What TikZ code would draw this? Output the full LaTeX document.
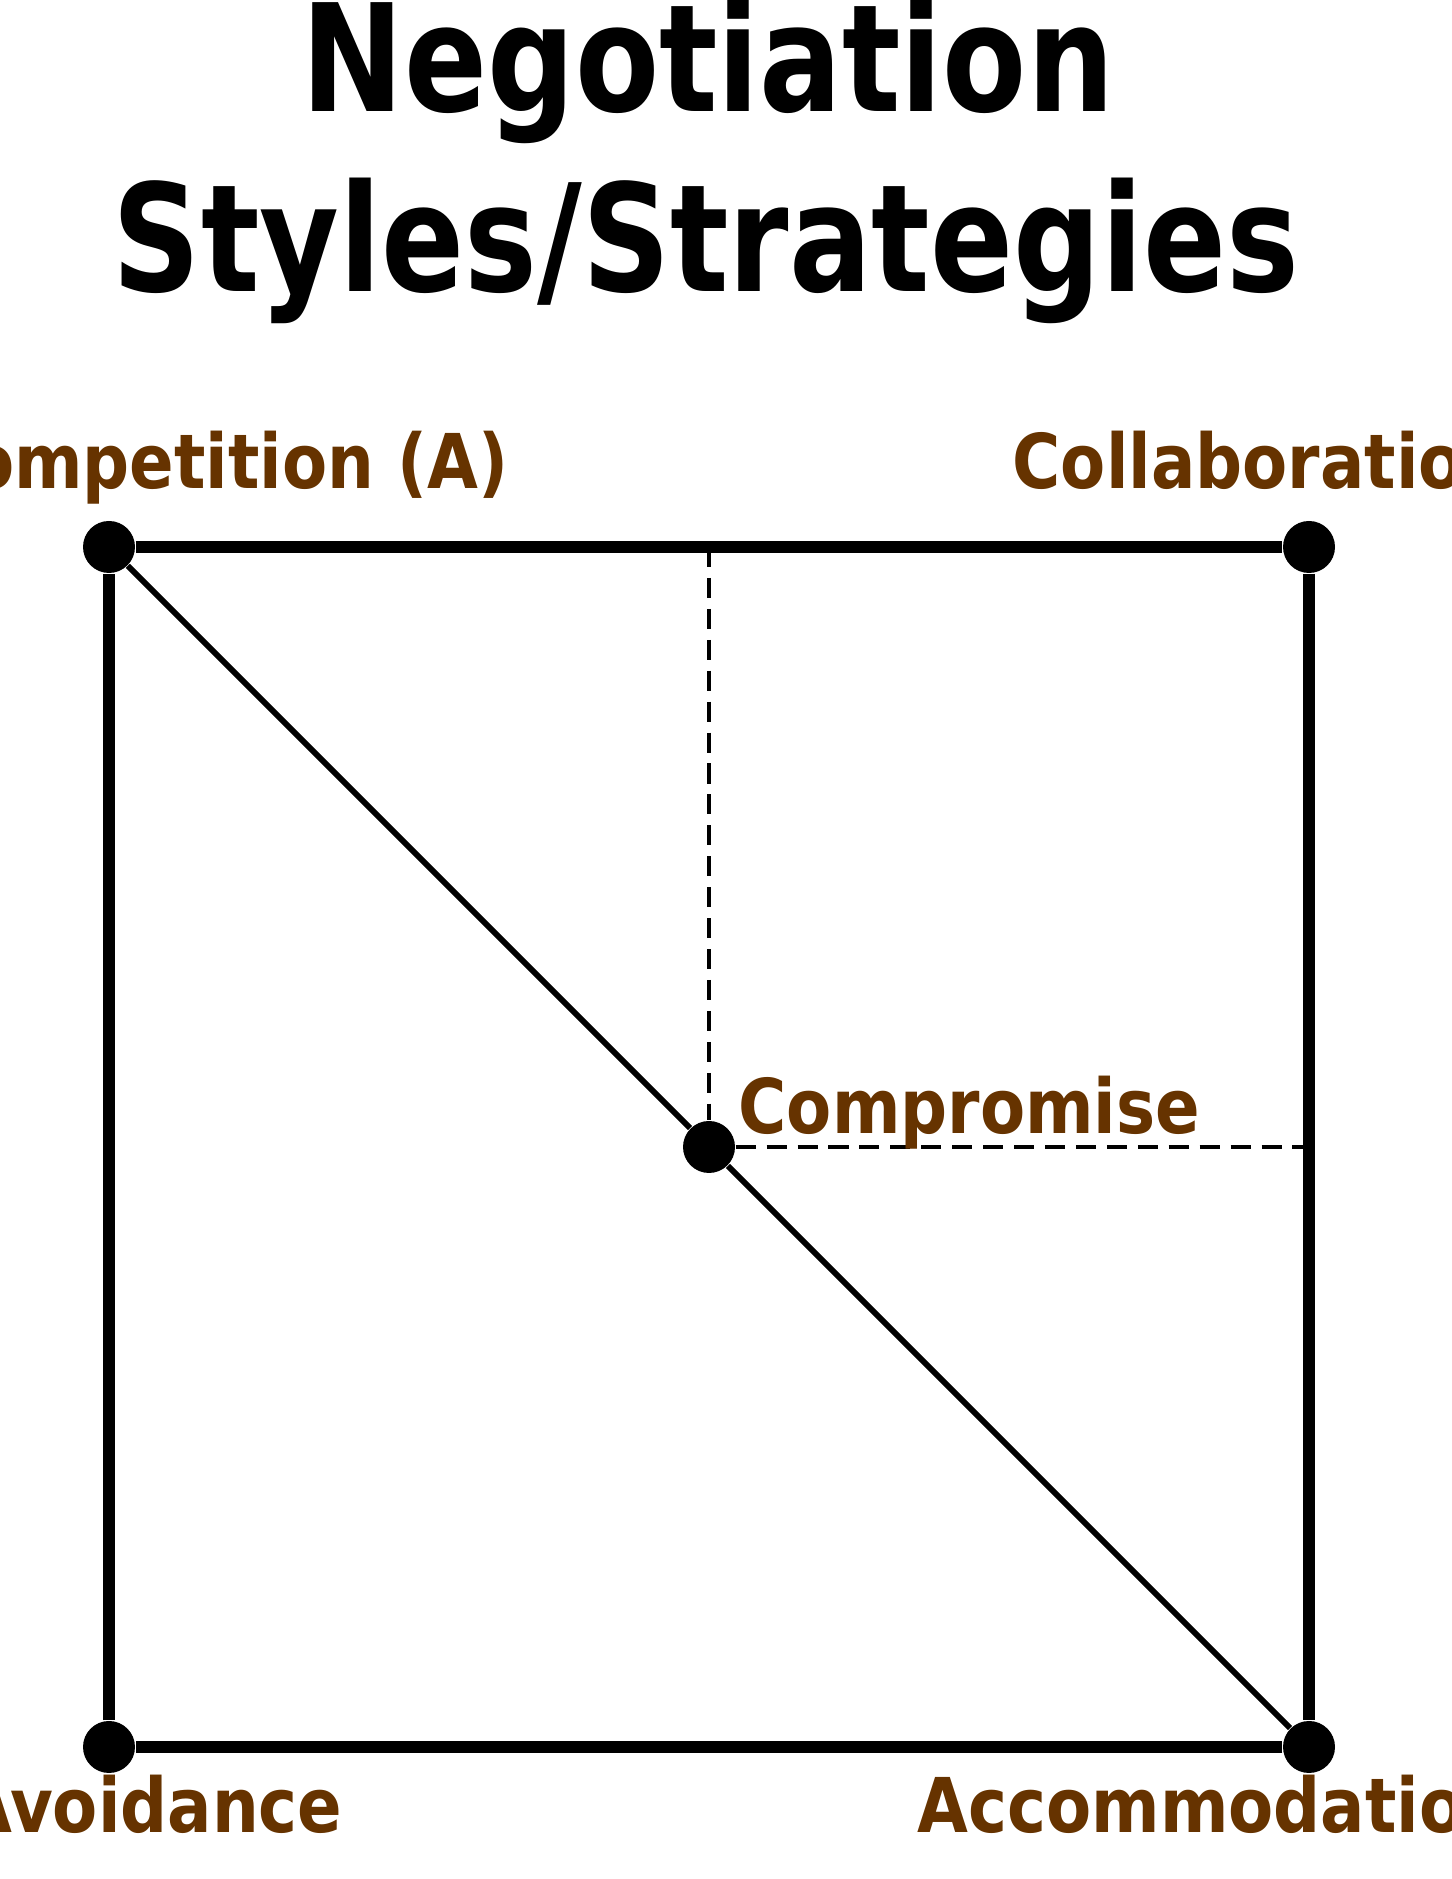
\documentclass[tikz,border=0pt]{standalone}
\usepackage{fontspec}
\newfontfamily\ttlfont[FakeStretch=0.82]{DejaVu Sans}
\newfontfamily\lblfont[FakeStretch=0.87]{DejaVu Sans}
\definecolor{lblbrown}{RGB}{102,51,0}

\tikzset{
    dot/.style = {circle, fill=black, inner sep=0pt, minimum size=0.52cm},
    edge/.style = {line width=3.2pt},
    diag/.style = {line width=1.7pt},
    guide/.style = {line width=1.1pt, dash pattern=on 5.7pt off 3.1pt},
    lbl/.style = {text=lblbrown, inner sep=0pt, font=\lblfont\bfseries\fontsize{21.5}{25}\selectfont},
    ttl/.style = {inner sep=0pt, anchor=base, font=\ttlfont\bfseries\fontsize{42.5}{50}\selectfont}
}

\begin{document}
\begin{tikzpicture}
    \useasboundingbox (0,0) rectangle (14.51,18.79);
    \clip (0,0) rectangle (14.51,18.79);

    \node[ttl] (ttlA) at (7.08,17.67) {Negotiation};
    \node[ttl] (ttlB) at (7.06,15.87) {Styles/Strategies};

    % corners and middle
    \foreach \n/\x/\y in {cmpt/1.09/13.32, coll/13.09/13.32, acc/13.09/1.32, avd/1.09/1.32, cmpr/7.09/7.32}
        \node[dot] (\n) at (\x,\y) {};
    \coordinate (topmid) at (7.09,13.32);
    \coordinate (rightmid) at (13.03,7.32);

    \draw[edge] (cmpt) -- (coll) -- (acc) -- (avd) -- (cmpt);
    \draw[diag] (cmpt) -- (cmpr) -- (acc);
    \draw[guide] (topmid) -- (cmpr);
    \draw[guide] (cmpr) -- (rightmid);

    \node[lbl, anchor=base east] (cmptlbl) at ([xshift=4.00cm, yshift=0.58cm]cmpt.center) {Competition (A)};
    \node[lbl, anchor=base west] (colllbl) at ([xshift=-2.97cm, yshift=0.58cm]coll.center) {Collaboration};
    \node[lbl, anchor=base east] (avdlbl) at ([xshift=2.34cm, yshift=-0.86cm]avd.center) {Avoidance};
    \node[lbl, anchor=base west] (acclbl) at ([xshift=-3.92cm, yshift=-0.86cm]acc.center) {Accommodation};
    \node[lbl, anchor=base west] (cmprlbl) at ([xshift=0.29cm, yshift=0.13cm]cmpr.center) {Compromise};
\end{tikzpicture}
\end{document}
